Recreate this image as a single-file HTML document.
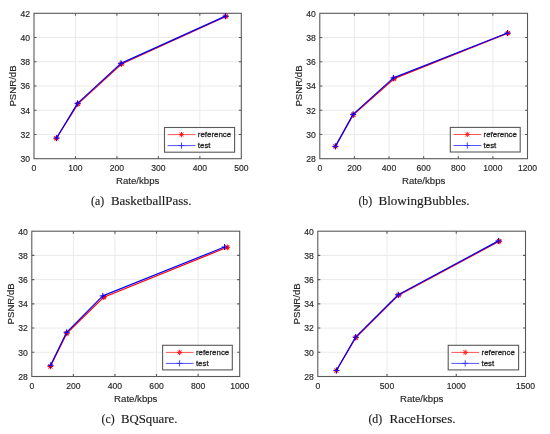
<!DOCTYPE html>
<html><head><meta charset="utf-8"><title>RD curves</title>
<style>
html,body{margin:0;padding:0;background:#fff;}
body{width:550px;height:434px;overflow:hidden;}
svg{display:block;filter:blur(0.3px);}
svg text{font-family:"Liberation Sans",Arial,sans-serif;fill:#262626;stroke:#262626;stroke-width:0.15px;}
svg text.lg{stroke:#262626;stroke-width:0.28px;}
svg text.cap{font-family:"Liberation Serif","DejaVu Serif",serif;font-size:11.8px;fill:#1a1a1a;stroke:#1a1a1a;stroke-width:0.14px;}
</style></head><body>
<svg width="550" height="434" viewBox="0 0 550 434">
<rect width="550" height="434" fill="#fff"/>
<rect x="34" y="13.3" width="207.3" height="145.4" fill="#fff"/>
<path d="M75.46 13.3V158.7M116.92 13.3V158.7M158.38 13.3V158.7M199.84 13.3V158.7M34 134.47H241.3M34 110.23H241.3M34 86H241.3M34 61.77H241.3M34 37.53H241.3" stroke="#eaeaea" stroke-width="1.0" fill="none"/>
<path d="M75.46 158.7v-2.5M75.46 13.3v2.5M116.92 158.7v-2.5M116.92 13.3v2.5M158.38 158.7v-2.5M158.38 13.3v2.5M199.84 158.7v-2.5M199.84 13.3v2.5M34 134.47h2.5M241.3 134.47h-2.5M34 110.23h2.5M241.3 110.23h-2.5M34 86h2.5M241.3 86h-2.5M34 61.77h2.5M241.3 61.77h-2.5M34 37.53h2.5M241.3 37.53h-2.5" stroke="#595959" stroke-width="1.1" fill="none"/>
<rect x="34" y="13.3" width="207.3" height="145.4" stroke="#595959" stroke-width="1.1" fill="none"/>
<polyline points="56.4,138.28 77.99,103.83 121.5,63.94 225.8,16.39" stroke="#ff0000" stroke-width="1.2" fill="none" stroke-linejoin="round"/>
<path d="M53.5 138.28H59.3M56.4 135.38V141.18M54.35 136.23L58.45 140.33M54.35 140.33L58.45 136.23" stroke="#ff0000" stroke-width="1.05" fill="none"/>
<path d="M75.09 103.83H80.89M77.99 100.93V106.73M75.94 101.78L80.04 105.88M75.94 105.88L80.04 101.78" stroke="#ff0000" stroke-width="1.05" fill="none"/>
<path d="M118.6 63.94H124.4M121.5 61.04V66.84M119.45 61.89L123.55 65.99M119.45 65.99L123.55 61.89" stroke="#ff0000" stroke-width="1.05" fill="none"/>
<path d="M222.9 16.39H228.7M225.8 13.49V19.29M223.75 14.34L227.85 18.44M223.75 18.44L227.85 14.34" stroke="#ff0000" stroke-width="1.05" fill="none"/>
<polyline points="56.6,137.98 77.49,103.33 120.9,63.34 225.5,16.09" stroke="#0000ff" stroke-width="1.2" fill="none" stroke-linejoin="round"/>
<path d="M53.6 137.98H59.6M56.6 134.98V140.98" stroke="#0000ff" stroke-width="0.95" fill="none"/>
<path d="M74.49 103.33H80.49M77.49 100.33V106.33" stroke="#0000ff" stroke-width="0.95" fill="none"/>
<path d="M117.9 63.34H123.9M120.9 60.34V66.34" stroke="#0000ff" stroke-width="0.95" fill="none"/>
<path d="M222.5 16.09H228.5M225.5 13.09V19.09" stroke="#0000ff" stroke-width="0.95" fill="none"/>
<text x="34" y="171.1" text-anchor="middle" font-size="8.6">0</text>
<text x="75.46" y="171.1" text-anchor="middle" font-size="8.6">100</text>
<text x="116.92" y="171.1" text-anchor="middle" font-size="8.6">200</text>
<text x="158.38" y="171.1" text-anchor="middle" font-size="8.6">300</text>
<text x="199.84" y="171.1" text-anchor="middle" font-size="8.6">400</text>
<text x="241.3" y="171.1" text-anchor="middle" font-size="8.6">500</text>
<text x="30" y="162" text-anchor="end" font-size="8.6">30</text>
<text x="30" y="137.77" text-anchor="end" font-size="8.6">32</text>
<text x="30" y="113.53" text-anchor="end" font-size="8.6">34</text>
<text x="30" y="89.3" text-anchor="end" font-size="8.6">36</text>
<text x="30" y="65.07" text-anchor="end" font-size="8.6">38</text>
<text x="30" y="40.83" text-anchor="end" font-size="8.6">40</text>
<text x="30" y="16.6" text-anchor="end" font-size="8.6">42</text>
<text x="137.65" y="184" text-anchor="middle" font-size="9.65">Rate/kbps</text>
<text transform="translate(16.1 86) rotate(-90)" x="0" y="0" text-anchor="middle" font-size="9.65">PSNR/dB</text>
<rect x="164.5" y="127.5" width="70.1" height="24.7" fill="#fff" stroke="#595959" stroke-width="1.1"/>
<path d="M167.7 134.6H195.5" stroke="#ff4040" stroke-width="0.9" fill="none"/>
<path d="M178.8 134.6H184.2M181.5 131.9V137.3M179.59 132.69L183.41 136.51M179.59 136.51L183.41 132.69" stroke="#ff2020" stroke-width="1.0" fill="none"/>
<path d="M167.7 145.6H195.5" stroke="#4040ff" stroke-width="0.9" fill="none"/>
<path d="M178.4 145.6H184.6M181.5 142.5V148.7" stroke="#3030ff" stroke-width="0.9" fill="none"/>
<text class="lg" x="197.8" y="137.4" font-size="7.9">reference</text>
<text class="lg" x="197.8" y="148.4" font-size="7.9">test</text>
<text class="cap" x="91" y="205">(a)</text>
<text class="cap" x="111" y="205" textLength="80.5" lengthAdjust="spacingAndGlyphs">BasketballPass.</text>
<rect x="319.8" y="13.3" width="207.7" height="145.4" fill="#fff"/>
<path d="M354.42 13.3V158.7M389.03 13.3V158.7M423.65 13.3V158.7M458.27 13.3V158.7M492.88 13.3V158.7M319.8 134.47H527.5M319.8 110.23H527.5M319.8 86H527.5M319.8 61.77H527.5M319.8 37.53H527.5" stroke="#eaeaea" stroke-width="1.0" fill="none"/>
<path d="M354.42 158.7v-2.5M354.42 13.3v2.5M389.03 158.7v-2.5M389.03 13.3v2.5M423.65 158.7v-2.5M423.65 13.3v2.5M458.27 158.7v-2.5M458.27 13.3v2.5M492.88 158.7v-2.5M492.88 13.3v2.5M319.8 134.47h2.5M527.5 134.47h-2.5M319.8 110.23h2.5M527.5 110.23h-2.5M319.8 86h2.5M527.5 86h-2.5M319.8 61.77h2.5M527.5 61.77h-2.5M319.8 37.53h2.5M527.5 37.53h-2.5" stroke="#595959" stroke-width="1.1" fill="none"/>
<rect x="319.8" y="13.3" width="207.7" height="145.4" stroke="#595959" stroke-width="1.1" fill="none"/>
<polyline points="335.39,146.44 353.3,114.75 394,78.68 507.81,33.15" stroke="#ff0000" stroke-width="1.2" fill="none" stroke-linejoin="round"/>
<path d="M332.49 146.44H338.29M335.39 143.54V149.34M333.34 144.39L337.45 148.49M333.34 148.49L337.45 144.39" stroke="#ff0000" stroke-width="1.05" fill="none"/>
<path d="M350.4 114.75H356.2M353.3 111.85V117.65M351.25 112.7L355.35 116.8M351.25 116.8L355.35 112.7" stroke="#ff0000" stroke-width="1.05" fill="none"/>
<path d="M391.1 78.68H396.9M394 75.78V81.58M391.94 76.63L396.05 80.73M391.94 80.73L396.05 76.63" stroke="#ff0000" stroke-width="1.05" fill="none"/>
<path d="M504.91 33.15H510.71M507.81 30.25V36.05M505.76 31.1L509.86 35.2M505.76 35.2L509.86 31.1" stroke="#ff0000" stroke-width="1.05" fill="none"/>
<polyline points="335.39,146.34 353,114.35 393.4,77.88 507.51,33.05" stroke="#0000ff" stroke-width="1.2" fill="none" stroke-linejoin="round"/>
<path d="M332.39 146.34H338.39M335.39 143.34V149.34" stroke="#0000ff" stroke-width="0.95" fill="none"/>
<path d="M350 114.35H356M353 111.35V117.35" stroke="#0000ff" stroke-width="0.95" fill="none"/>
<path d="M390.4 77.88H396.4M393.4 74.88V80.88" stroke="#0000ff" stroke-width="0.95" fill="none"/>
<path d="M504.51 33.05H510.51M507.51 30.05V36.05" stroke="#0000ff" stroke-width="0.95" fill="none"/>
<text x="319.8" y="171.1" text-anchor="middle" font-size="8.6">0</text>
<text x="354.42" y="171.1" text-anchor="middle" font-size="8.6">200</text>
<text x="389.03" y="171.1" text-anchor="middle" font-size="8.6">400</text>
<text x="423.65" y="171.1" text-anchor="middle" font-size="8.6">600</text>
<text x="458.27" y="171.1" text-anchor="middle" font-size="8.6">800</text>
<text x="492.88" y="171.1" text-anchor="middle" font-size="8.6">1000</text>
<text x="527.5" y="171.1" text-anchor="middle" font-size="8.6">1200</text>
<text x="315.8" y="162" text-anchor="end" font-size="8.6">28</text>
<text x="315.8" y="137.77" text-anchor="end" font-size="8.6">30</text>
<text x="315.8" y="113.53" text-anchor="end" font-size="8.6">32</text>
<text x="315.8" y="89.3" text-anchor="end" font-size="8.6">34</text>
<text x="315.8" y="65.07" text-anchor="end" font-size="8.6">36</text>
<text x="315.8" y="40.83" text-anchor="end" font-size="8.6">38</text>
<text x="315.8" y="16.6" text-anchor="end" font-size="8.6">40</text>
<text x="423.65" y="184" text-anchor="middle" font-size="9.65">Rate/kbps</text>
<text transform="translate(301.9 86) rotate(-90)" x="0" y="0" text-anchor="middle" font-size="9.65">PSNR/dB</text>
<rect x="450.3" y="127.4" width="69.9" height="24.6" fill="#fff" stroke="#595959" stroke-width="1.1"/>
<path d="M453.5 134.5H481.3" stroke="#ff4040" stroke-width="0.9" fill="none"/>
<path d="M464.6 134.5H470M467.3 131.8V137.2M465.39 132.59L469.21 136.41M465.39 136.41L469.21 132.59" stroke="#ff2020" stroke-width="1.0" fill="none"/>
<path d="M453.5 145.5H481.3" stroke="#4040ff" stroke-width="0.9" fill="none"/>
<path d="M464.2 145.5H470.4M467.3 142.4V148.6" stroke="#3030ff" stroke-width="0.9" fill="none"/>
<text class="lg" x="483.6" y="137.3" font-size="7.9">reference</text>
<text class="lg" x="483.6" y="148.3" font-size="7.9">test</text>
<text class="cap" x="358.4" y="205">(b)</text>
<text class="cap" x="378.5" y="205" textLength="91.1" lengthAdjust="spacingAndGlyphs">BlowingBubbles.</text>
<rect x="31.8" y="231.2" width="207.9" height="145.3" fill="#fff"/>
<path d="M73.38 231.2V376.5M114.96 231.2V376.5M156.54 231.2V376.5M198.12 231.2V376.5M31.8 352.28H239.7M31.8 328.07H239.7M31.8 303.85H239.7M31.8 279.63H239.7M31.8 255.42H239.7" stroke="#eaeaea" stroke-width="1.0" fill="none"/>
<path d="M73.38 376.5v-2.5M73.38 231.2v2.5M114.96 376.5v-2.5M114.96 231.2v2.5M156.54 376.5v-2.5M156.54 231.2v2.5M198.12 376.5v-2.5M198.12 231.2v2.5M31.8 352.28h2.5M239.7 352.28h-2.5M31.8 328.07h2.5M239.7 328.07h-2.5M31.8 303.85h2.5M239.7 303.85h-2.5M31.8 279.63h2.5M239.7 279.63h-2.5M31.8 255.42h2.5M239.7 255.42h-2.5" stroke="#595959" stroke-width="1.1" fill="none"/>
<rect x="31.8" y="231.2" width="207.9" height="145.3" stroke="#595959" stroke-width="1.1" fill="none"/>
<polyline points="50.41,366.45 66.81,333.27 103.8,297.19 227.21,247.3" stroke="#ff0000" stroke-width="1.2" fill="none" stroke-linejoin="round"/>
<path d="M47.51 366.45H53.31M50.41 363.55V369.35M48.36 364.4L52.46 368.5M48.36 368.5L52.46 364.4" stroke="#ff0000" stroke-width="1.05" fill="none"/>
<path d="M63.91 333.27H69.71M66.81 330.37V336.17M64.76 331.22L68.86 335.32M64.76 335.32L68.86 331.22" stroke="#ff0000" stroke-width="1.05" fill="none"/>
<path d="M100.9 297.19H106.7M103.8 294.29V300.09M101.75 295.14L105.85 299.24M101.75 299.24L105.85 295.14" stroke="#ff0000" stroke-width="1.05" fill="none"/>
<path d="M224.31 247.3H230.11M227.21 244.4V250.2M225.15 245.25L229.26 249.35M225.15 249.35L229.26 245.25" stroke="#ff0000" stroke-width="1.05" fill="none"/>
<polyline points="50.59,365.3 66.6,332.3 102.76,295.89 224.5,247" stroke="#0000ff" stroke-width="1.2" fill="none" stroke-linejoin="round"/>
<path d="M47.59 365.3H53.59M50.59 362.3V368.3" stroke="#0000ff" stroke-width="0.95" fill="none"/>
<path d="M63.6 332.3H69.6M66.6 329.3V335.3" stroke="#0000ff" stroke-width="0.95" fill="none"/>
<path d="M99.76 295.89H105.76M102.76 292.89V298.89" stroke="#0000ff" stroke-width="0.95" fill="none"/>
<path d="M221.5 247H227.5M224.5 244V250" stroke="#0000ff" stroke-width="0.95" fill="none"/>
<text x="31.8" y="388.9" text-anchor="middle" font-size="8.6">0</text>
<text x="73.38" y="388.9" text-anchor="middle" font-size="8.6">200</text>
<text x="114.96" y="388.9" text-anchor="middle" font-size="8.6">400</text>
<text x="156.54" y="388.9" text-anchor="middle" font-size="8.6">600</text>
<text x="198.12" y="388.9" text-anchor="middle" font-size="8.6">800</text>
<text x="239.7" y="388.9" text-anchor="middle" font-size="8.6">1000</text>
<text x="27.8" y="379.8" text-anchor="end" font-size="8.6">28</text>
<text x="27.8" y="355.58" text-anchor="end" font-size="8.6">30</text>
<text x="27.8" y="331.37" text-anchor="end" font-size="8.6">32</text>
<text x="27.8" y="307.15" text-anchor="end" font-size="8.6">34</text>
<text x="27.8" y="282.93" text-anchor="end" font-size="8.6">36</text>
<text x="27.8" y="258.72" text-anchor="end" font-size="8.6">38</text>
<text x="27.8" y="234.5" text-anchor="end" font-size="8.6">40</text>
<text x="135.75" y="401.8" text-anchor="middle" font-size="9.65">Rate/kbps</text>
<text transform="translate(13.9 303.85) rotate(-90)" x="0" y="0" text-anchor="middle" font-size="9.65">PSNR/dB</text>
<rect x="162.6" y="345.3" width="69.7" height="24.6" fill="#fff" stroke="#595959" stroke-width="1.1"/>
<path d="M165.8 352.4H193.6" stroke="#ff4040" stroke-width="0.9" fill="none"/>
<path d="M176.9 352.4H182.3M179.6 349.7V355.1M177.69 350.49L181.51 354.31M177.69 354.31L181.51 350.49" stroke="#ff2020" stroke-width="1.0" fill="none"/>
<path d="M165.8 363.4H193.6" stroke="#4040ff" stroke-width="0.9" fill="none"/>
<path d="M176.5 363.4H182.7M179.6 360.3V366.5" stroke="#3030ff" stroke-width="0.9" fill="none"/>
<text class="lg" x="195.9" y="355.2" font-size="7.9">reference</text>
<text class="lg" x="195.9" y="366.2" font-size="7.9">test</text>
<text class="cap" x="101.6" y="422.6">(c)</text>
<text class="cap" x="121" y="422.6" textLength="56.4" lengthAdjust="spacingAndGlyphs">BQSquare.</text>
<rect x="317.8" y="231.2" width="207.7" height="145.3" fill="#fff"/>
<path d="M387.03 231.2V376.5M456.27 231.2V376.5M317.8 352.28H525.5M317.8 328.07H525.5M317.8 303.85H525.5M317.8 279.63H525.5M317.8 255.42H525.5" stroke="#eaeaea" stroke-width="1.0" fill="none"/>
<path d="M387.03 376.5v-2.5M387.03 231.2v2.5M456.27 376.5v-2.5M456.27 231.2v2.5M317.8 352.28h2.5M525.5 352.28h-2.5M317.8 328.07h2.5M525.5 328.07h-2.5M317.8 303.85h2.5M525.5 303.85h-2.5M317.8 279.63h2.5M525.5 279.63h-2.5M317.8 255.42h2.5M525.5 255.42h-2.5" stroke="#595959" stroke-width="1.1" fill="none"/>
<rect x="317.8" y="231.2" width="207.7" height="145.3" stroke="#595959" stroke-width="1.1" fill="none"/>
<polyline points="336.4,370.55 355.9,337.5 398.59,295.14 499.2,241.29" stroke="#ff0000" stroke-width="1.2" fill="none" stroke-linejoin="round"/>
<path d="M333.5 370.55H339.3M336.4 367.65V373.45M334.35 368.5L338.45 372.6M334.35 372.6L338.45 368.5" stroke="#ff0000" stroke-width="1.05" fill="none"/>
<path d="M353 337.5H358.8M355.9 334.6V340.4M353.85 335.45L357.95 339.55M353.85 339.55L357.95 335.45" stroke="#ff0000" stroke-width="1.05" fill="none"/>
<path d="M395.69 295.14H401.49M398.59 292.24V298.04M396.54 293.09L400.64 297.2M396.54 297.2L400.64 293.09" stroke="#ff0000" stroke-width="1.05" fill="none"/>
<path d="M496.3 241.29H502.1M499.2 238.39V244.19M497.15 239.24L501.25 243.34M497.15 243.34L501.25 239.24" stroke="#ff0000" stroke-width="1.05" fill="none"/>
<polyline points="336.4,370.45 355.6,337.1 398.19,294.74 498.5,240.89" stroke="#0000ff" stroke-width="1.2" fill="none" stroke-linejoin="round"/>
<path d="M333.4 370.45H339.4M336.4 367.45V373.45" stroke="#0000ff" stroke-width="0.95" fill="none"/>
<path d="M352.6 337.1H358.6M355.6 334.1V340.1" stroke="#0000ff" stroke-width="0.95" fill="none"/>
<path d="M395.19 294.74H401.19M398.19 291.74V297.74" stroke="#0000ff" stroke-width="0.95" fill="none"/>
<path d="M495.5 240.89H501.5M498.5 237.89V243.89" stroke="#0000ff" stroke-width="0.95" fill="none"/>
<text x="317.8" y="388.9" text-anchor="middle" font-size="8.6">0</text>
<text x="387.03" y="388.9" text-anchor="middle" font-size="8.6">500</text>
<text x="456.27" y="388.9" text-anchor="middle" font-size="8.6">1000</text>
<text x="525.5" y="388.9" text-anchor="middle" font-size="8.6">1500</text>
<text x="313.8" y="379.8" text-anchor="end" font-size="8.6">28</text>
<text x="313.8" y="355.58" text-anchor="end" font-size="8.6">30</text>
<text x="313.8" y="331.37" text-anchor="end" font-size="8.6">32</text>
<text x="313.8" y="307.15" text-anchor="end" font-size="8.6">34</text>
<text x="313.8" y="282.93" text-anchor="end" font-size="8.6">36</text>
<text x="313.8" y="258.72" text-anchor="end" font-size="8.6">38</text>
<text x="313.8" y="234.5" text-anchor="end" font-size="8.6">40</text>
<text x="421.65" y="401.8" text-anchor="middle" font-size="9.65">Rate/kbps</text>
<text transform="translate(299.9 303.85) rotate(-90)" x="0" y="0" text-anchor="middle" font-size="9.65">PSNR/dB</text>
<rect x="448.2" y="345.3" width="70.4" height="24.6" fill="#fff" stroke="#595959" stroke-width="1.1"/>
<path d="M451.4 352.4H479.2" stroke="#ff4040" stroke-width="0.9" fill="none"/>
<path d="M462.5 352.4H467.9M465.2 349.7V355.1M463.29 350.49L467.11 354.31M463.29 354.31L467.11 350.49" stroke="#ff2020" stroke-width="1.0" fill="none"/>
<path d="M451.4 363.4H479.2" stroke="#4040ff" stroke-width="0.9" fill="none"/>
<path d="M462.1 363.4H468.3M465.2 360.3V366.5" stroke="#3030ff" stroke-width="0.9" fill="none"/>
<text class="lg" x="481.5" y="355.2" font-size="7.9">reference</text>
<text class="lg" x="481.5" y="366.2" font-size="7.9">test</text>
<text class="cap" x="368.4" y="422.6">(d)</text>
<text class="cap" x="389.6" y="422.6" textLength="66" lengthAdjust="spacingAndGlyphs">RaceHorses.</text>
</svg>
</body></html>
